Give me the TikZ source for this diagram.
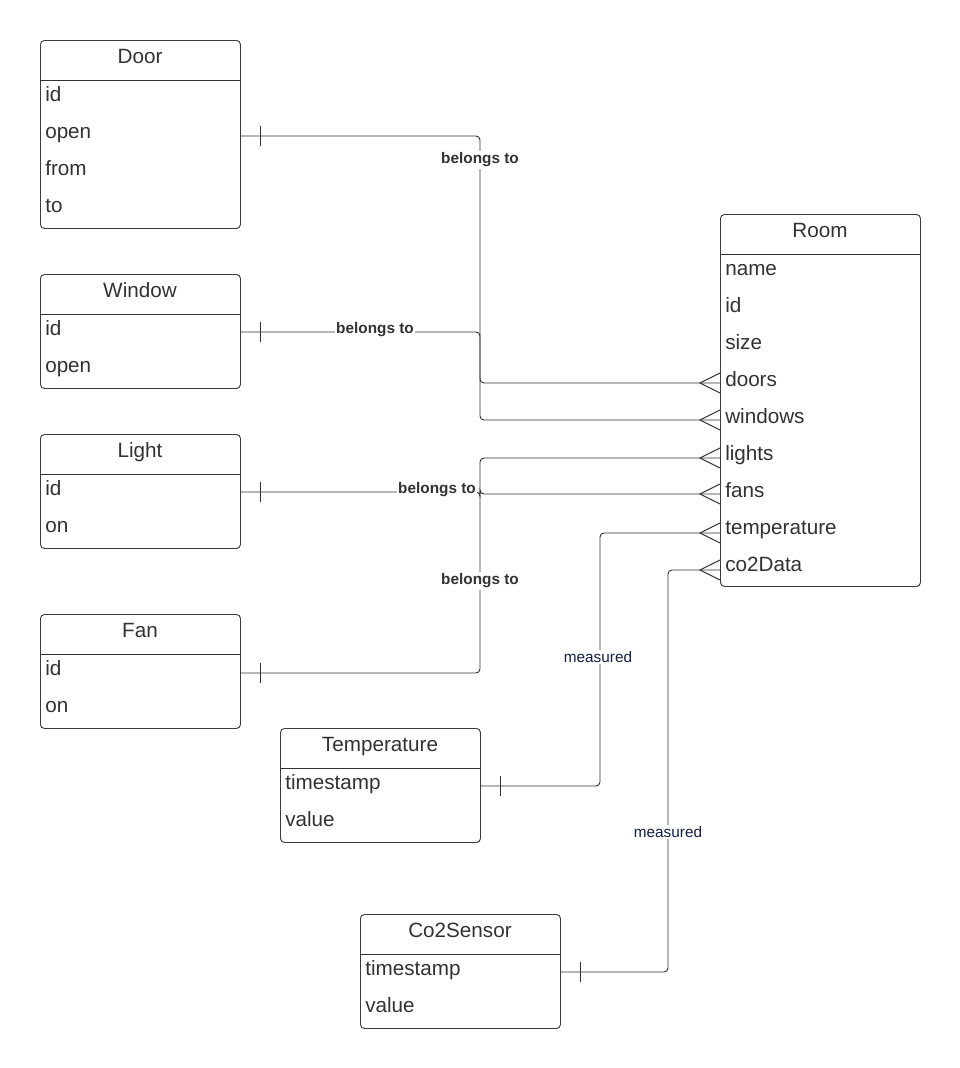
\documentclass[tikz,border=0pt]{standalone}
\usepackage{fontspec}
\setmainfont{Liberation Sans}
\begin{document}
\begin{tikzpicture}[x=0.75pt,y=0.75pt,yscale=-1,
  ent/.style={draw={rgb,255:red,60;green,60;blue,60},rounded corners=3pt,line width=0.7pt,anchor=north west,minimum width=150pt,inner sep=0pt},
  title/.style={font=\fontsize{15.5}{17}\selectfont,text={rgb,255:red,50;green,50;blue,50},text height=11pt,text depth=3pt},
  attr/.style={anchor=west,inner sep=0pt,font=\fontsize{15.5}{17}\selectfont,text={rgb,255:red,50;green,50;blue,50},text height=11pt,text depth=3pt},
  rel/.style={draw={rgb,255:red,50;green,50;blue,50},line width=0.7pt,rounded corners=3pt},
  lbl/.style={fill=white,inner sep=1pt,font=\bfseries\fontsize{11.5}{13}\selectfont,text={rgb,255:red,50;green,50;blue,50}},
  mlbl/.style={fill=white,inner sep=1pt,font=\fontsize{11.5}{13}\selectfont,text={rgb,255:red,20;green,30;blue,70}}]
\useasboundingbox (0,0) rectangle (960,1068);

% Door
\node[ent,minimum height=141pt] (door) at (40,40) {};
\draw[rel] (40,80) -- (240,80);
\node[title] at (140,58) {Door};
\node[attr] (door-id) at (45,96) {id};
\node[attr] (door-open) at (45,133) {open};
\node[attr] (door-from) at (45,170) {from};
\node[attr] (door-to) at (45,207) {to};

% Window
\node[ent,minimum height=85.5pt] (window) at (40,274) {};
\draw[rel] (40,314) -- (240,314);
\node[title] at (140,292) {Window};
\node[attr] (window-id) at (45,330) {id};
\node[attr] (window-open) at (45,367) {open};

% Light
\node[ent,minimum height=85.5pt] (light) at (40,434) {};
\draw[rel] (40,474) -- (240,474);
\node[title] at (140,452) {Light};
\node[attr] (light-id) at (45,490) {id};
\node[attr] (light-on) at (45,527) {on};

% Fan
\node[ent,minimum height=85.5pt] (fan) at (40,614) {};
\draw[rel] (40,654) -- (240,654);
\node[title] at (140,632) {Fan};
\node[attr] (fan-id) at (45,670) {id};
\node[attr] (fan-on) at (45,707) {on};

% Temperature
\node[ent,minimum height=85.5pt] (temp) at (280,728) {};
\draw[rel] (280,768) -- (480,768);
\node[title] at (380,746) {Temperature};
\node[attr] (temp-ts) at (285,784) {timestamp};
\node[attr] (temp-val) at (285,821) {value};

% Co2Sensor
\node[ent,minimum height=85.5pt] (co2) at (360,914) {};
\draw[rel] (360,954) -- (560,954);
\node[title] at (460,932) {Co2Sensor};
\node[attr] (co2-ts) at (365,970) {timestamp};
\node[attr] (co2-val) at (365,1007) {value};

% Room
\node[ent,minimum height=279pt] (room) at (720,214) {};
\draw[rel] (720,254) -- (920,254);
\node[title] at (820,232) {Room};
\node[attr] (room-name) at (725,270) {name};
\node[attr] (room-id) at (725,307) {id};
\node[attr] (room-size) at (725,344) {size};
\node[attr] (room-doors) at (725,381) {doors};
\node[attr] (room-windows) at (725,418) {windows};
\node[attr] (room-lights) at (725,455) {lights};
\node[attr] (room-fans) at (725,492) {fans};
\node[attr] (room-temp) at (725,529) {temperature};
\node[attr] (room-co2) at (725,566) {co2Data};

% end points
\coordinate (a1) at (240,136); \coordinate (b1) at (720,383);
\coordinate (a2) at (240,332); \coordinate (b2) at (720,420);
\coordinate (a3) at (240,492); \coordinate (b3) at (720,494);
\coordinate (a4) at (240,673); \coordinate (b4) at (720,458);
\coordinate (a5) at (480,786); \coordinate (b5) at (720,533);
\coordinate (a6) at (560,972); \coordinate (b6) at (720,570);

% connectors
\draw[rel] (a1) -- (480,136) -- (480,383) -- (b1);
\draw[rel] (a2) -- (480,332) -- (480,420) -- (b2);
\draw[rel] (a3) -- (480,492) -- (480,494) -- (b3);
\draw[rel] (a4) -- (480,673) -- (480,458) -- (b4);
\draw[rel] (a5) -- (600,786) -- (600,533) -- (b5);
\draw[rel] (a6) -- (668,972) -- (668,570) -- (b6);

% one / many ends
\foreach \p in {a1,a2,a3,a4,a5,a6}
  \draw[rel] ([shift={(20,-10)}]\p) -- ([shift={(20,10)}]\p);
\foreach \p in {b1,b2,b3,b4,b5,b6}
  \draw[rel,rounded corners=0pt] ([shift={(0,-10)}]\p) -- ([shift={(-20,0)}]\p) -- ([shift={(0,10)}]\p);

% labels
\node[lbl] at (480,160) {belongs to};
\node[lbl] at (375,330) {belongs to};
\node[lbl] at (437,490) {belongs to};
\node[lbl] at (480,581) {belongs to};
\node[mlbl] at (598,657) {measured};
\node[mlbl] at (668,832) {measured};
\end{tikzpicture}
\end{document}
